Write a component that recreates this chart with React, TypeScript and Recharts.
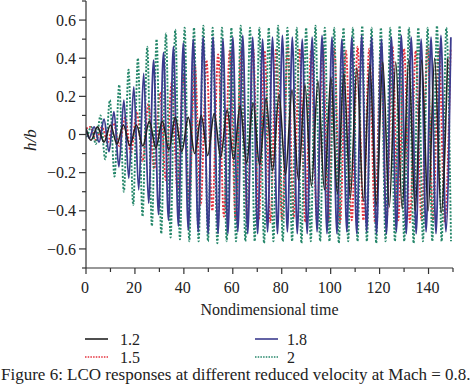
import { LineChart, Line, XAxis, YAxis, Legend } from 'recharts';

// every curve starts from the same small initial deflection
const startValue = 0.03;

// reduced velocity 1.2 : extremum values, first at blackStart, one every blackHalf
const blackStart = 2.05;
const blackHalf = 2.65;
const blackExtrema = [
  -0.03, 0.04, -0.04, 0.05, -0.05, 0.05, -0.06, 0.05, -0.06, 0.07,
  -0.07, 0.07, -0.08, 0.09, -0.09, 0.09, -0.1, 0.1, -0.11, 0.11,
  -0.12, 0.13, -0.13, 0.15, -0.15, 0.165, -0.16, 0.19, -0.19, 0.21,
  -0.21, 0.235, -0.24, 0.26, -0.27, 0.28, -0.29, 0.3, -0.31, 0.32,
  -0.33, 0.35, -0.35, 0.37, -0.37, 0.38, -0.38, 0.38, -0.39, 0.39,
  -0.4, 0.39, -0.4, 0.4, -0.41, 0.4,
];

// reduced velocity 1.5
const redStart = 1.75;
const redHalf = 2.375;
const redExtrema = [
  0.04, -0.03, 0.04, -0.04, 0.06, -0.06, 0.09, -0.1, 0.12, -0.14,
  0.16, -0.18, 0.22, -0.24, 0.27, -0.29, 0.32, -0.34, 0.36, -0.37,
  0.39, -0.4, 0.42, -0.43, 0.44, -0.44,
  0.45, -0.45, 0.46, -0.45, 0.44, -0.46, 0.45, -0.45, 0.46, -0.44,
  0.45, -0.46, 0.44, -0.45, 0.46, -0.45, 0.45, -0.46, 0.44, -0.45,
  0.46, -0.45, 0.45, -0.46, 0.44, -0.45, 0.46, -0.45, 0.45, -0.46,
  0.44, -0.45, 0.46, -0.45, 0.45, -0.46, 0.45,
];

// reduced velocity 1.8
const blueStart = 1.3;
const blueHalf = 2.025;
const blueExtrema = [
  -0.02, 0.04, -0.04, 0.08, -0.09, 0.12, -0.17, 0.18, -0.23, 0.25,
  -0.29, 0.32, -0.36, 0.39, -0.42, 0.43, -0.45, 0.46, -0.48, 0.48,
  -0.5, 0.5, -0.51,
  0.51, -0.52, 0.51, -0.52, 0.5, -0.52, 0.51, -0.51, 0.52, -0.52,
  0.51, -0.52, 0.5, -0.51, 0.51, -0.52, 0.52, -0.51, 0.51, -0.52,
  0.5, -0.52, 0.51, -0.51, 0.52, -0.52, 0.51, -0.52, 0.5, -0.51,
  0.51, -0.52, 0.52, -0.51, 0.51, -0.52, 0.5, -0.52, 0.51, -0.51,
  0.52, -0.52, 0.51, -0.52, 0.5, -0.51, 0.51, -0.52, 0.52, -0.51,
  0.51,
];

// reduced velocity 2
const greenStart = 0.2;
const greenHalf = 1.91;
const greenExtrema = [
  -0.01, 0.04, -0.05, 0.1, -0.13, 0.18, -0.22, 0.26, -0.3, 0.34,
  -0.37, 0.4, -0.43, 0.46, -0.48, 0.5, -0.52, 0.53, -0.54, 0.55,
  -0.55, 0.56,
  -0.56, 0.56, -0.56, 0.57, -0.56, 0.56, -0.57, 0.56, -0.56, 0.56,
  -0.56, 0.57, -0.56, 0.56, -0.56, 0.56, -0.57, 0.56, -0.56, 0.57,
  -0.56, 0.56, -0.56, 0.56, -0.57, 0.56, -0.56, 0.57, -0.56, 0.56,
  -0.56, 0.56, -0.57, 0.56, -0.56, 0.56, -0.56, 0.57, -0.56, 0.56,
  -0.57, 0.56, -0.56, 0.56, -0.56, 0.57, -0.56, 0.56, -0.57, 0.56,
  -0.56, 0.56, -0.56, 0.57, -0.56, 0.56, -0.56,
];

const timeTicks = [0, 10, 20, 30, 40, 50, 60, 70, 80, 90, 100, 110, 120, 130, 140, 150];
const timeLabels = [0, 20, 40, 60, 80, 100, 120, 140];
const hTicks = [-0.7, -0.6, -0.5, -0.4, -0.3, -0.2, -0.1, 0, 0.1, 0.2, 0.3, 0.4, 0.5, 0.6, 0.7];
const hLabels = [-0.6, -0.4, -0.2, 0, 0.2, 0.4, 0.6];

const buildSeries = (start: number, half: number, values: number[]) => [
  { t: 0, v: startValue },
  ...values.map((v, i) => ({ t: Math.round((start + i * half) * 1000) / 1000, v })),
];

const series = [
  { name: '1.5', data: buildSeries(redStart, redHalf, redExtrema), color: '#e5323e', width: 1.9, dash: '2 1.6' },
  { name: '2', data: buildSeries(greenStart, greenHalf, greenExtrema), color: '#25876a', width: 1.9, dash: '2 1.6' },
  { name: '1.8', data: buildSeries(blueStart, blueHalf, blueExtrema), color: '#3b3b8e', width: 1.8, dash: undefined },
  { name: '1.2', data: buildSeries(blackStart, blackHalf, blackExtrema), color: '#222222', width: 1.6, dash: undefined },
];

const font = "'Liberation Serif', 'DejaVu Serif', serif";
const axisColor = '#333';

const formatH = (v: number) => {
  if (Math.abs(v) < 1e-9) return '0';
  return v < 0 ? `\u2212${Math.abs(v).toFixed(1)}` : v.toFixed(1);
};

const TimeTick = (props: any) => {
  const { x, y, payload } = props;
  const major = timeLabels.includes(payload.value);
  return (
    <g>
      <line x1={x} x2={x} y1={y} y2={y + (major ? 6 : 4)} stroke={axisColor} strokeWidth={1.2} />
      {major && (
        <text x={x - 1} y={y + 24.5} textAnchor="middle" fontFamily={font} fontSize={16} fill="#222">
          {payload.value}
        </text>
      )}
    </g>
  );
};

const HTick = (props: any) => {
  const { x, y, payload } = props;
  const major = hLabels.some((h) => Math.abs(h - payload.value) < 1e-9);
  return (
    <g>
      <line x1={x - (major ? 7 : 4)} x2={x} y1={y} y2={y} stroke={axisColor} strokeWidth={1.2} />
      {major && (
        <text x={x - 10} y={y} dy="0.35em" textAnchor="end" fontFamily={font} fontSize={16} fill="#222">
          {formatH(payload.value)}
        </text>
      )}
    </g>
  );
};

const renderHLabel = () => (
  <text
    x={30}
    y={140}
    transform="rotate(-90, 30, 140)"
    textAnchor="middle"
    dy="0.35em"
    fontFamily={font}
    fontStyle="italic"
    fontSize={17}
    fill="#222"
  >
    h/b
  </text>
);

const legendOrder = ['1.2', '1.5', '1.8', '2'];

const renderLegend = () => (
  <svg width={474} height={40} style={{ display: 'block' }}>
    {legendOrder.map((name, i) => {
      const s = series.find((d) => d.name === name)!;
      const col = Math.floor(i / 2);
      const row = i % 2;
      const x0 = col === 0 ? 85 : 255;
      const cy = 11 + row * 18;
      return (
        <g key={name}>
          <line x1={x0} x2={x0 + 23} y1={cy} y2={cy} stroke={s.color} strokeWidth={1.6} strokeDasharray={s.dash ? '1.5 1.2' : undefined} />
          <text x={x0 + (col === 0 ? 35 : 32)} y={cy} dy="0.35em" fontFamily={font} fontSize={16} fill="#222">
            {name}
          </text>
        </g>
      );
    })}
  </svg>
);

export default function App() {
  return (
    <div style={{ position: 'absolute', left: 0, top: 0, width: 474, height: 385, background: '#fff', overflow: 'hidden' }}>
      <LineChart width={474} height={385} margin={{ top: 1, right: 21, bottom: 67, left: 0 }}>
        <XAxis
          type="number"
          dataKey="t"
          domain={[0, 150]}
          allowDataOverflow
          ticks={timeTicks}
          interval={0}
          tick={TimeTick}
          tickLine={false}
          tickSize={0}
          tickMargin={0}
          height={50}
          stroke={axisColor}
          strokeWidth={1.2}
          label={{ value: 'Nondimensional time', position: 'insideBottom', offset: 3, fontFamily: font, fontSize: 16, fill: '#222' }}
        />
        <YAxis
          type="number"
          domain={[-0.7, 0.7]}
          allowDataOverflow
          ticks={hTicks}
          interval={0}
          tick={HTick}
          tickLine={false}
          tickSize={0}
          tickMargin={0}
          width={86}
          stroke={axisColor}
          strokeWidth={1.2}
          label={renderHLabel}
        />
        {series.map((s) => (
          <Line
            key={s.name}
            data={s.data}
            dataKey="v"
            name={s.name}
            type="monotone"
            stroke={s.color}
            strokeWidth={s.width}
            strokeDasharray={s.dash}
            dot={false}
            activeDot={false}
            isAnimationActive={false}
          />
        ))}
        <Legend
          layout="vertical"
          verticalAlign="middle"
          align="center"
          content={renderLegend}
          wrapperStyle={{ left: 0, top: 328, width: 474, height: 40 }}
        />
      </LineChart>
      <div
        style={{
          position: 'absolute',
          left: 1,
          top: 365,
          lineHeight: '19px',
          whiteSpace: 'nowrap',
          fontFamily: font,
          fontSize: 17,
          color: '#222',
        }}
      >
        Figure 6: LCO responses at different reduced velocity at Mach = 0.8.
      </div>
    </div>
  );
}
